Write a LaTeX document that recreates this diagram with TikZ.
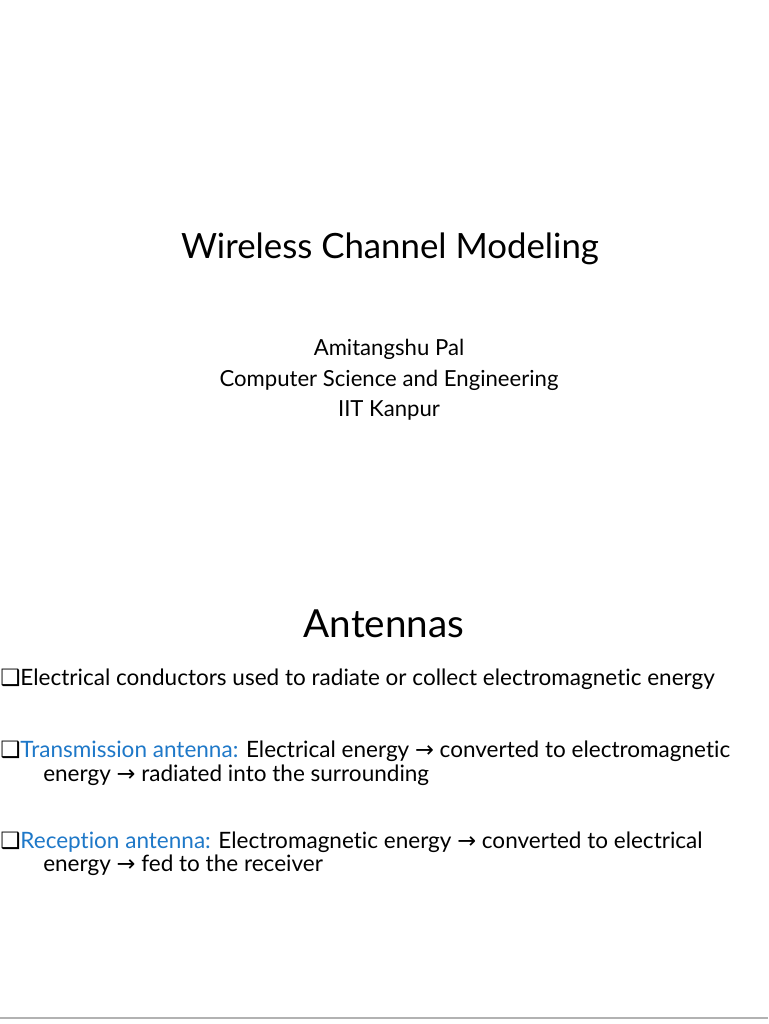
\documentclass[tikz,border=0pt]{standalone}
\usepackage{fontspec}
\setmainfont[Ligatures=NoCommon]{Lato}
\newfontfamily\symf{DejaVu Sans}
\definecolor{hl}{RGB}{30,120,200}
\newcommand{\arr}{{\symf →}}
\newcommand{\bx}{{\symf ❑}}
\begin{document}
\begin{tikzpicture}[x=0.75pt,y=-0.75pt,
  txt/.style={inner sep=0pt,anchor=base west,font=\fontsize{16.9}{20}\selectfont},
  ctr/.style={inner sep=0pt,anchor=base,font=\fontsize{16.6}{20}\selectfont}]
\useasboundingbox[fill=white] (0,0) rectangle (768,1024);
\node[inner sep=0pt,anchor=base,font=\fontsize{26.1}{30}\selectfont] (t) at (390,258) {Wireless Channel Modeling};
\node[ctr] (a1) at (389,355) {Amitangshu Pal};
\node[ctr] (a2) at (389,386) {Computer Science and Engineering};
\node[ctr] (a3) at (389,416) {IIT Kanpur};
\node[inner sep=0pt,anchor=base,font=\fontsize{29}{34}\selectfont] (h) at (384,637) {Antennas};
\node[txt] (b1) at (0,685) {\bx Electrical conductors used to radiate or collect electromagnetic energy};
\node[txt] (b2) at (0,757) {\bx\textcolor{hl}{Transmission antenna:} Electrical energy \arr\ converted to electromagnetic};
\node[txt] (b2b) at (43,781) {energy \arr\ radiated into the surrounding};
\node[txt] (b3) at (0,848) {\bx\textcolor{hl}{Reception antenna:} Electromagnetic energy \arr\ converted to electrical};
\node[txt] (b3b) at (43,871) {energy \arr\ fed to the receiver};
\draw[gray!60,line width=1pt] (0,1018) -- (768,1018);
\end{tikzpicture}
\end{document}
